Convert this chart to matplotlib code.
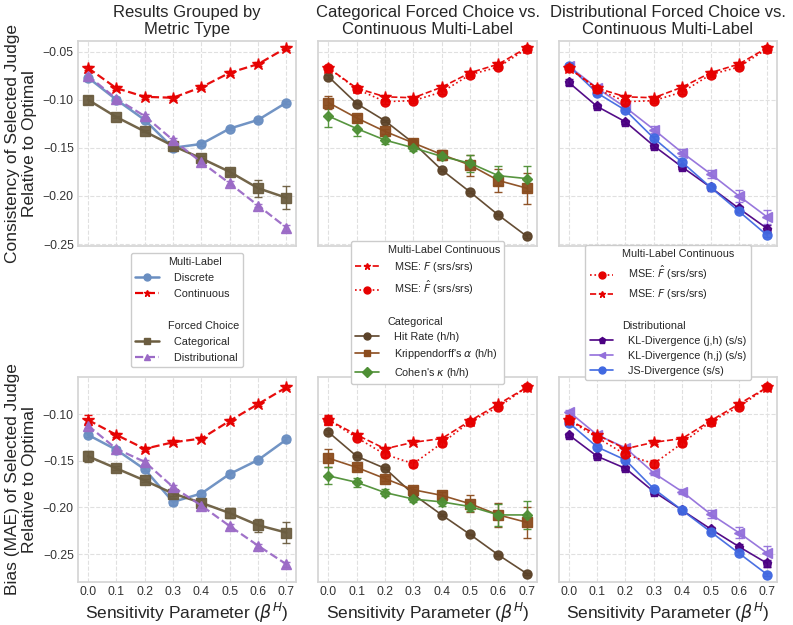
import numpy as np
import matplotlib
matplotlib.use("Agg")
import matplotlib.pyplot as plt
import seaborn as sns
from matplotlib.lines import Line2D

sns.set_theme(style="whitegrid")
plt.rcParams['font.family'] = ['Liberation Sans', 'DejaVu Sans']
plt.rcParams['grid.linestyle'] = '--'
plt.rcParams['grid.color'] = '#dddddd'
plt.rcParams['axes.edgecolor'] = '#d0d0d0'

beta = [0.0, 0.1, 0.2, 0.3, 0.4, 0.5, 0.6, 0.7]

# ---- consistency (top row) ----
cons_discrete = [-0.077, -0.100, -0.121, -0.150, -0.146, -0.130, -0.121, -0.103]
cons_discrete_err = [0.002, 0.002, 0.002, 0.003, 0.002, 0.002, 0.002, 0.002]
cons_mse_f = [-0.067, -0.088, -0.097, -0.098, -0.087, -0.072, -0.063, -0.046]
cons_mse_f_err = [0.002, 0.002, 0.002, 0.002, 0.002, 0.002, 0.002, 0.002]
cons_mse_fhat = [-0.067, -0.089, -0.102, -0.101, -0.092, -0.074, -0.066, -0.047]
cons_mse_fhat_err = [0.002, 0.002, 0.002, 0.002, 0.002, 0.002, 0.002, 0.002]
cons_categorical = [-0.100, -0.118, -0.133, -0.148, -0.161, -0.175, -0.192, -0.202]
cons_categorical_err = [0.004, 0.001, 0.001, 0.002, 0.002, 0.003, 0.009, 0.012]
cons_distributional = [-0.075, -0.099, -0.117, -0.142, -0.165, -0.187, -0.210, -0.233]
cons_distributional_err = [0.003, 0.002, 0.002, 0.002, 0.002, 0.002, 0.002, 0.003]
cons_hit = [-0.076, -0.104, -0.122, -0.145, -0.173, -0.196, -0.220, -0.242]
cons_hit_err = [0.002, 0.001, 0.001, 0.001, 0.001, 0.001, 0.001, 0.002]
cons_kripp = [-0.103, -0.119, -0.133, -0.145, -0.157, -0.168, -0.184, -0.192]
cons_kripp_err = [0.007, 0.003, 0.003, 0.003, 0.005, 0.011, 0.012, 0.016]
cons_cohen = [-0.117, -0.130, -0.142, -0.150, -0.159, -0.166, -0.179, -0.182]
cons_cohen_err = [0.011, 0.008, 0.004, 0.003, 0.004, 0.009, 0.010, 0.013]
cons_kl_jh = [-0.082, -0.107, -0.123, -0.148, -0.170, -0.191, -0.213, -0.234]
cons_kl_jh_err = [0.003, 0.002, 0.002, 0.002, 0.002, 0.002, 0.003, 0.004]
cons_kl_hj = [-0.065, -0.088, -0.108, -0.131, -0.155, -0.177, -0.200, -0.222]
cons_kl_hj_err = [0.002, 0.002, 0.003, 0.004, 0.004, 0.004, 0.006, 0.007]
cons_js = [-0.065, -0.093, -0.111, -0.140, -0.165, -0.191, -0.216, -0.241]
cons_js_err = [0.002, 0.002, 0.002, 0.002, 0.002, 0.002, 0.002, 0.002]

# ---- bias / MAE (bottom row) ----
bias_discrete = [-0.122, -0.138, -0.159, -0.194, -0.185, -0.164, -0.149, -0.127]
bias_discrete_err = [0.002, 0.002, 0.002, 0.003, 0.003, 0.003, 0.002, 0.003]
bias_mse_f = [-0.106, -0.122, -0.137, -0.130, -0.126, -0.107, -0.089, -0.071]
bias_mse_f_err = [0.005, 0.002, 0.002, 0.002, 0.002, 0.002, 0.002, 0.002]
bias_mse_fhat = [-0.106, -0.125, -0.143, -0.153, -0.131, -0.108, -0.092, -0.071]
bias_mse_fhat_err = [0.004, 0.002, 0.003, 0.004, 0.003, 0.002, 0.002, 0.002]
bias_categorical = [-0.145, -0.158, -0.171, -0.185, -0.195, -0.206, -0.219, -0.227]
bias_categorical_err = [0.006, 0.002, 0.002, 0.003, 0.004, 0.005, 0.007, 0.011]
bias_distributional = [-0.112, -0.137, -0.151, -0.178, -0.198, -0.220, -0.241, -0.261]
bias_distributional_err = [0.003, 0.002, 0.002, 0.002, 0.002, 0.002, 0.002, 0.003]
bias_hit = [-0.119, -0.145, -0.158, -0.186, -0.208, -0.229, -0.251, -0.271]
bias_hit_err = [0.002, 0.001, 0.001, 0.001, 0.001, 0.001, 0.001, 0.001]
bias_kripp = [-0.147, -0.157, -0.169, -0.181, -0.187, -0.196, -0.208, -0.216]
bias_kripp_err = [0.010, 0.003, 0.003, 0.003, 0.004, 0.009, 0.013, 0.017]
bias_cohen = [-0.166, -0.173, -0.184, -0.191, -0.194, -0.199, -0.208, -0.208]
bias_cohen_err = [0.009, 0.005, 0.004, 0.003, 0.004, 0.005, 0.012, 0.015]
bias_kl_jh = [-0.122, -0.145, -0.158, -0.183, -0.203, -0.223, -0.242, -0.260]
bias_kl_jh_err = [0.002, 0.002, 0.002, 0.002, 0.002, 0.002, 0.003, 0.004]
bias_kl_hj = [-0.097, -0.122, -0.136, -0.163, -0.183, -0.207, -0.227, -0.249]
bias_kl_hj_err = [0.002, 0.002, 0.002, 0.002, 0.003, 0.004, 0.006, 0.008]
bias_js = [-0.109, -0.135, -0.149, -0.180, -0.203, -0.226, -0.249, -0.272]
bias_js_err = [0.002, 0.002, 0.002, 0.002, 0.002, 0.002, 0.002, 0.002]

titles = ["Results Grouped by\nMetric Type",
          "Categorical Forced Choice vs.\nContinuous Multi-Label",
          "Distributional Forced Choice vs.\nContinuous Multi-Label"]
ylabels = ["Consistency of Selected Judge\nRelative to Optimal",
           "Bias (MAE) of Selected Judge\nRelative to Optimal"]

RED = '#e60000'
# (label, color, linestyle, marker, linewidth)
st = {
    'discrete': ("Discrete", '#6a8ec1', '-', 'o', 1.8),
    'cont': ("Continuous", RED, '--', '*', 1.6),
    'categorical': ("Categorical", '#6b5d40', '-', 's', 1.8),
    'distributional': ("Distributional", '#9b6ac6', '--', '^', 1.6),
    'mse_f': ("MSE: $F$ (srs/srs)", RED, '--', '*', 1.2),
    'mse_fhat': ("MSE: $\\hat{F}$ (srs/srs)", RED, ':', 'o', 1.2),
    'hit': ("Hit Rate (h/h)", '#5c4329', '-', 'o', 1.2),
    'kripp': ("Krippendorff's $\\alpha$ (h/h)", '#8b4c1e', '-', 's', 1.2),
    'cohen': ("Cohen's $\\kappa$ (h/h)", '#4e8f35', '-', 'D', 1.2),
    'kl_jh': ("KL-Divergence (j,h) (s/s)", '#4b0082', '-', 'p', 1.2),
    'kl_hj': ("KL-Divergence (h,j) (s/s)", '#9370db', '-', '<', 1.2),
    'js': ("JS-Divergence (s/s)", '#4169e1', '-', 'o', 1.2),
}


def draw(ax, key, y, err):
    label, c, ls, m, lw = st[key]
    ms = 9 if m == '*' else 6.5
    if m == 'D':
        ms = 5.5
    ax.errorbar(beta, y, yerr=err, color=c, ls=ls, marker=m, lw=lw, ms=ms,
                elinewidth=1, capsize=3, ecolor=c, alpha=0.95)


def handle(key):
    label, c, ls, m, lw = st[key]
    return Line2D([], [], color=c, ls=ls, marker=m, lw=lw, ms=5)


blank = Line2D([], [], color='none')

fig, axes = plt.subplots(2, 3, figsize=(7.93, 6.25), dpi=100, sharex=True, sharey='row')
plt.subplots_adjust(left=0.0984, right=0.98, top=0.9344, bottom=0.0688, wspace=0.101, hspace=0.64)

# top row
draw(axes[0, 0], 'discrete', cons_discrete, cons_discrete_err)
draw(axes[0, 0], 'cont', cons_mse_f, cons_mse_f_err)
draw(axes[0, 0], 'categorical', cons_categorical, cons_categorical_err)
draw(axes[0, 0], 'distributional', cons_distributional, cons_distributional_err)

draw(axes[0, 1], 'hit', cons_hit, cons_hit_err)
draw(axes[0, 1], 'kripp', cons_kripp, cons_kripp_err)
draw(axes[0, 1], 'cohen', cons_cohen, cons_cohen_err)
draw(axes[0, 1], 'mse_fhat', cons_mse_fhat, cons_mse_fhat_err)
draw(axes[0, 1], 'mse_f', cons_mse_f, cons_mse_f_err)

draw(axes[0, 2], 'kl_jh', cons_kl_jh, cons_kl_jh_err)
draw(axes[0, 2], 'kl_hj', cons_kl_hj, cons_kl_hj_err)
draw(axes[0, 2], 'js', cons_js, cons_js_err)
draw(axes[0, 2], 'mse_fhat', cons_mse_fhat, cons_mse_fhat_err)
draw(axes[0, 2], 'mse_f', cons_mse_f, cons_mse_f_err)

# bottom row
draw(axes[1, 0], 'discrete', bias_discrete, bias_discrete_err)
draw(axes[1, 0], 'cont', bias_mse_f, bias_mse_f_err)
draw(axes[1, 0], 'categorical', bias_categorical, bias_categorical_err)
draw(axes[1, 0], 'distributional', bias_distributional, bias_distributional_err)

draw(axes[1, 1], 'hit', bias_hit, bias_hit_err)
draw(axes[1, 1], 'kripp', bias_kripp, bias_kripp_err)
draw(axes[1, 1], 'cohen', bias_cohen, bias_cohen_err)
draw(axes[1, 1], 'mse_fhat', bias_mse_fhat, bias_mse_fhat_err)
draw(axes[1, 1], 'mse_f', bias_mse_f, bias_mse_f_err)

draw(axes[1, 2], 'kl_jh', bias_kl_jh, bias_kl_jh_err)
draw(axes[1, 2], 'kl_hj', bias_kl_hj, bias_kl_hj_err)
draw(axes[1, 2], 'js', bias_js, bias_js_err)
draw(axes[1, 2], 'mse_fhat', bias_mse_fhat, bias_mse_fhat_err)
draw(axes[1, 2], 'mse_f', bias_mse_f, bias_mse_f_err)

axes[0, 0].set_ylim(-0.252, -0.039)
axes[1, 0].set_ylim(-0.280, -0.060)
axes[0, 0].set_yticks([-0.25, -0.20, -0.15, -0.10, -0.05])
axes[1, 0].set_yticks([-0.25, -0.20, -0.15, -0.10])
axes[1, 0].set_xticks(beta)

for j in range(3):
    axes[0, j].set_title(titles[j], fontsize=12, color='#262626', pad=5)
    axes[1, j].set_xlabel("Sensitivity Parameter ($\\beta^H$)", fontsize=12.5, labelpad=2)
for i in range(2):
    axes[i, 0].set_ylabel(ylabels[i], fontsize=12.5, labelpad=4)
for ax in axes.flat:
    ax.tick_params(labelsize=8.8, length=0, pad=3, colors='#333333')
    ax.grid(True, ls='--', color='#e0e0e0', lw=0.8)
    for s in ax.spines.values():
        s.set_color('#d5d5d5')

sp = "  "
leg_kw = dict(loc='center', fontsize=7.8, frameon=True, fancybox=True,
              handlelength=2.2, borderpad=0.4, edgecolor='#cccccc',
              framealpha=1.0)

# left legend
h = [blank, handle('discrete'), handle('cont'), blank, blank, handle('categorical'), handle('distributional')]
l = ["Multi-Label", sp + "Discrete", sp + "Continuous", "", "Forced Choice", sp + "Categorical", sp + "Distributional"]
p = axes[0, 0].get_position()
fig.legend(h, l, bbox_to_anchor=((p.x0 + p.x1) / 2, 0.504), labelspacing=0.55, **leg_kw)

# middle legend
h = [blank, handle('mse_f'), handle('mse_fhat'), blank, blank, handle('hit'), handle('kripp'), handle('cohen')]
l = ["Multi-Label Continuous", sp + st['mse_f'][0], sp + st['mse_fhat'][0], "", "Categorical",
     sp + st['hit'][0], sp + st['kripp'][0], sp + st['cohen'][0]]
p = axes[0, 1].get_position()
fig.legend(h, l, bbox_to_anchor=((p.x0 + p.x1) / 2, 0.5), labelspacing=0.45, **leg_kw)

# right legend
h = [blank, handle('mse_fhat'), handle('mse_f'), blank, blank, handle('kl_jh'), handle('kl_hj'), handle('js')]
l = ["Multi-Label Continuous", sp + st['mse_fhat'][0], sp + st['mse_f'][0], "", "Distributional",
     sp + st['kl_jh'][0], sp + st['kl_hj'][0], sp + st['js'][0]]
p = axes[0, 2].get_position()
fig.legend(h, l, bbox_to_anchor=((p.x0 + p.x1) / 2, 0.5), labelspacing=0.45, **leg_kw)

plt.savefig("out.png", dpi=100)
